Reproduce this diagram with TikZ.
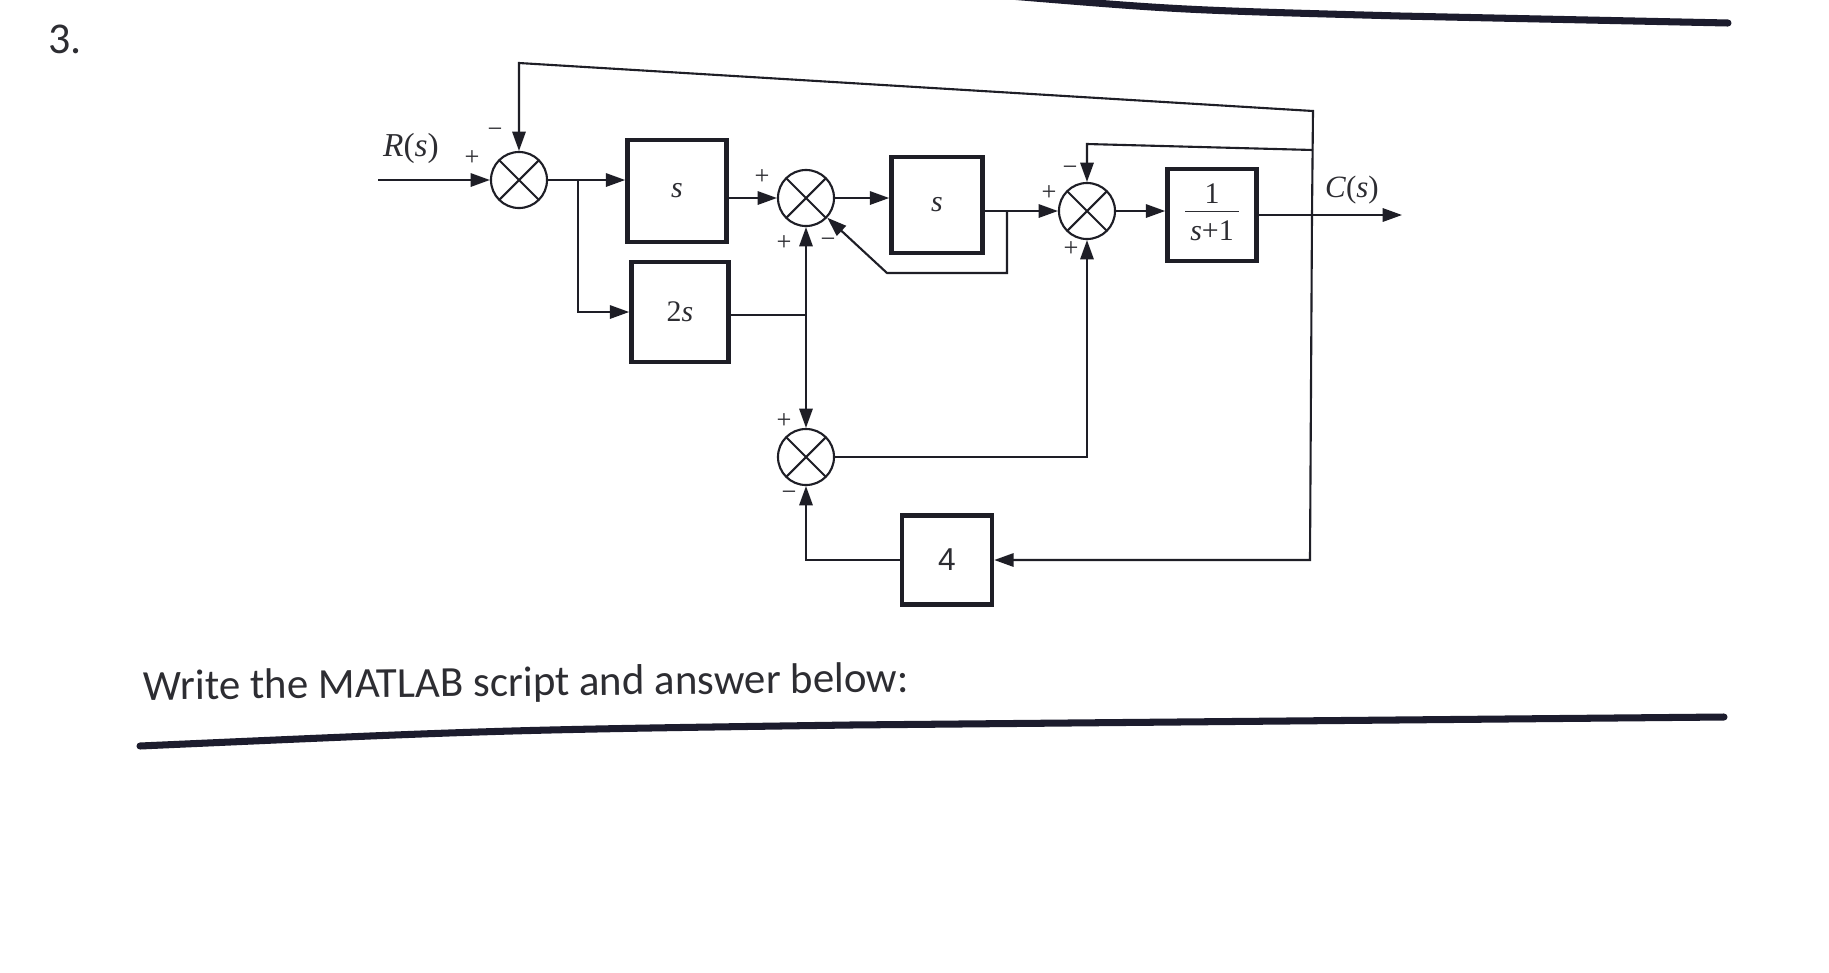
\documentclass[tikz,border=0pt]{standalone}
\usepackage{fontspec}
\setmainfont{Liberation Serif}
\newfontfamily\carlito{Carlito}
\newfontfamily\hsans{Liberation Sans}
\usetikzlibrary{arrows.meta}
\definecolor{ink}{RGB}{30,30,38}
\definecolor{txt}{RGB}{45,45,50}
\definecolor{rulecol}{RGB}{28,28,45}
\begin{document}
\begin{tikzpicture}[x=0.01cm,y=-0.01cm,
  blk/.style={draw=ink, line width=1.3pt, inner sep=0, text=txt, font=\fontsize{8.5}{10}\selectfont},
  sumx/.style={circle, draw=ink, line width=0.6pt, minimum size=0.56cm, inner sep=0,
    path picture={\draw[ink, line width=0.6pt]
      (path picture bounding box.north west) -- (path picture bounding box.south east)
      (path picture bounding box.north east) -- (path picture bounding box.south west);}},
  sig/.style={font=\fontsize{7.5}{8}\selectfont, inner sep=0, text=txt},
  lbl/.style={inner sep=0, text=txt},
  conn/.style={draw=ink, line width=0.6pt},
  arr/.style={conn, -{Triangle[length=5.5pt,width=3.8pt]}},
  pagerule/.style={draw=rulecol, line width=2pt, line cap=round}]
\useasboundingbox (0,0) rectangle (1829,972);
\fill[white] (0,0) rectangle (1829,972);

% page elements
\node[anchor=base west, inner sep=0, text=txt, font=\carlito\fontsize{12.5}{14}\selectfont] (num) at (48,53) {3.};
\node[anchor=base west, inner sep=0, rotate=0.6, text=txt, font=\carlito\fontsize{12.2}{14}\selectfont] (task) at (143,700) {Write the MATLAB script and answer below:};
\draw[pagerule] (1010,-4) .. controls (1180,10) .. (1400,16) -- (1728,23);
\draw[pagerule] (140,746) .. controls (500,730) .. (850,725) -- (1724,717);

% summing junctions
\node[sumx] (sum1) at (519,180) {};
\node[sumx] (sum2) at (806,198) {};
\node[sumx] (sum3) at (1087,211) {};
\node[sumx] (sum4) at (806,457) {};

% blocks
\node[blk, minimum width=0.99cm, minimum height=1.02cm] (bs1) at (677,191) {\textit{s}};
\node[blk, minimum width=0.97cm, minimum height=1.00cm] (bs2) at (680,312) {2\textit{s}};
\node[blk, minimum width=0.91cm, minimum height=0.96cm] (bs3) at (937,205) {\textit{s}};
\node[blk, minimum width=0.89cm, minimum height=0.92cm, font=\fontsize{8.5}{10}\selectfont] (bs4) at (1212,215)
  {\begin{tabular}{@{\,}c@{\,}}1\\[-1pt]\hline\noalign{\vskip1pt}\textit{s}+1\end{tabular}};
\node[blk, minimum width=0.90cm, minimum height=0.89cm, font=\hsans\fontsize{9}{10}\selectfont] (b4) at (947,560) {4};

% labels
\node[lbl, font=\fontsize{9.5}{11}\selectfont] (rlab) at (411,148) {\textit{R}(\textit{s})};
\node[lbl, font=\fontsize{8.8}{10}\selectfont] (clab) at (1352,190) {\textit{C}(\textit{s})};

% signs
\node[sig] at (472,158) {+};
\node[sig] at (495,133) {−};
\node[sig] at (762,177) {+};
\node[sig] at (784,243) {+};
\node[sig] at (828,243) {−};
\node[sig] at (1049,193) {+};
\node[sig] at (1070,171) {−};
\node[sig] at (1071,249) {+};
\node[sig] at (784,421) {+};
\node[sig] at (789,496) {−};

% coordinates
\coordinate (in) at (378,180);
\coordinate (b1) at (578,180);
\coordinate (j2) at (806,315);
\coordinate (b3) at (1007,211);
\coordinate (c2) at (887,273);
\coordinate (out) at (1402,215);
\coordinate (j) at (1312,215);
\coordinate (jt) at (1313,111);
\coordinate (tl) at (519,63);
\coordinate (jm) at (1313,150);
\coordinate (c3) at (1087,144);
\coordinate (jb) at (1310,560);

% forward path
\draw[arr] (in) -- (sum1.west);
\draw[arr] (sum1.east) -- (sum1.east -| bs1.west);
\draw[arr] (b1) |- (bs2.west);
\draw[arr] (bs1.east |- sum2.west) -- (sum2.west);
\draw[arr] (sum2.east) -- (sum2.east -| bs3.west);
\draw[arr] (bs3.east |- sum3.west) -- (sum3.west);
\draw[arr] (sum3.east) -- (sum3.east -| bs4.west);
\draw[arr] (bs4.east |- out) -- (out);

% inner paths
\draw[arr] (b3) |- (c2) -- (sum2);
\draw[conn] (bs2.east |- j2) -- (j2);
\draw[arr] (j2) -- (sum2.south);
\draw[arr] (j2) -- (sum4.north);
\draw[arr] (sum4.east) -| (sum3.south);

% feedback paths
\draw[arr] (j) -- (jt) -- (tl) -- (sum1.north);
\draw[arr] (jm) -- (c3) -- (sum3.north);
\draw[arr] (j) -- (jb) -- (b4.east);
\draw[arr] (b4.west) -| (sum4.south);
\end{tikzpicture}
\end{document}
